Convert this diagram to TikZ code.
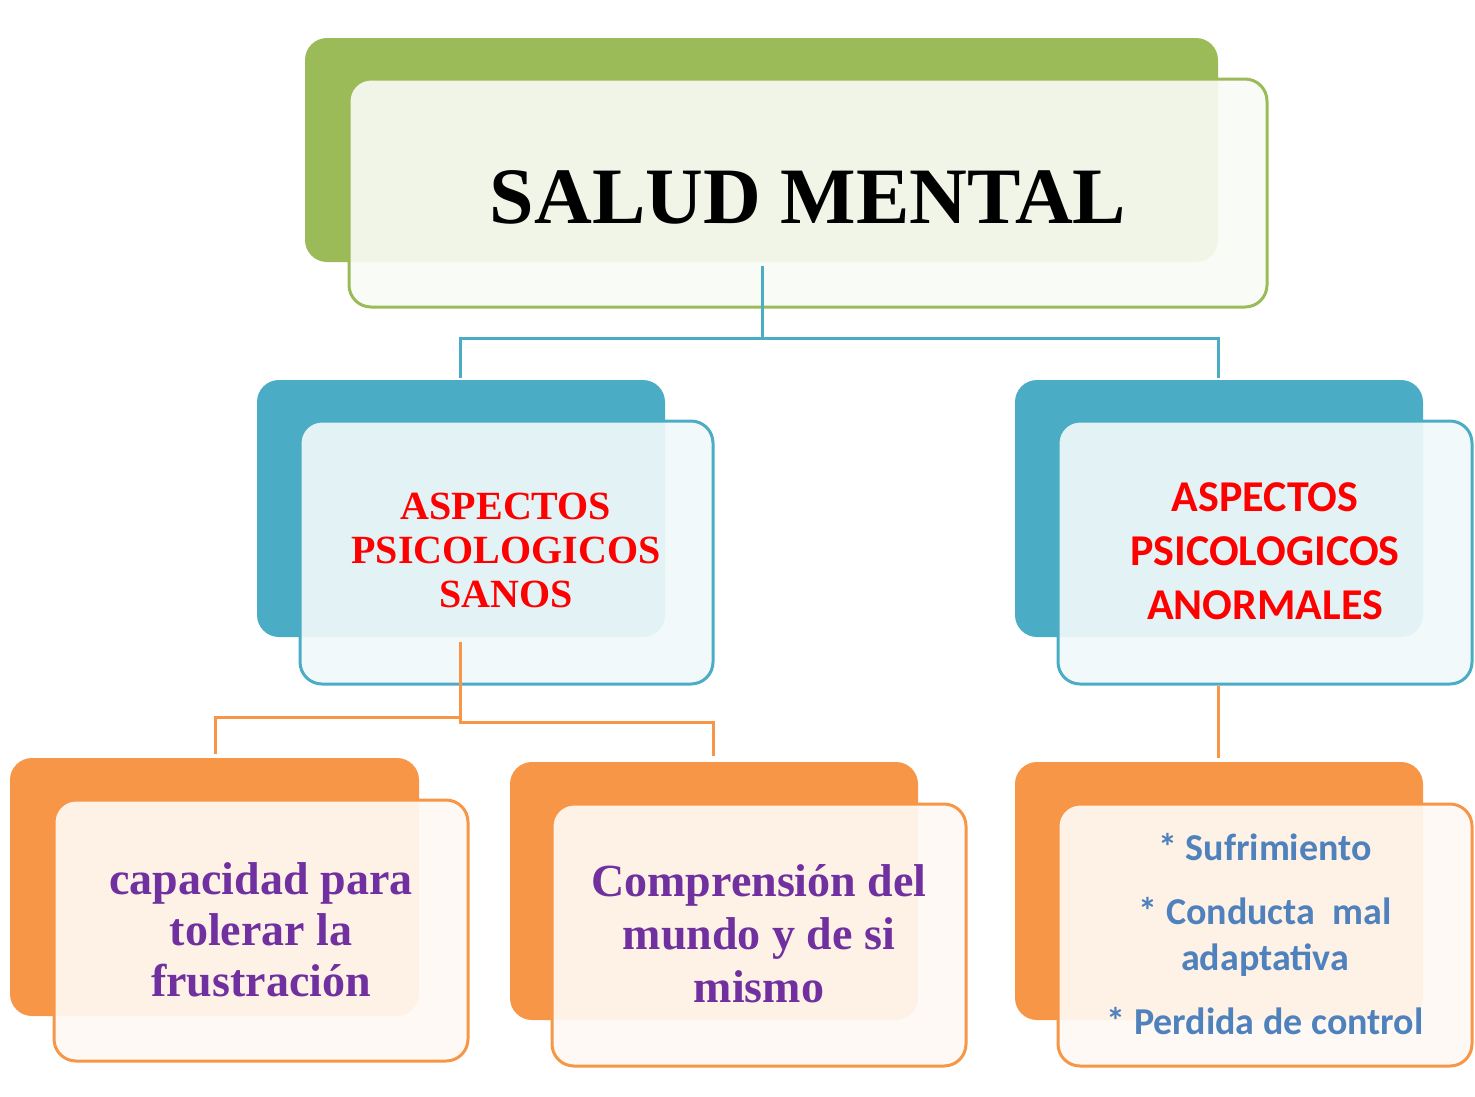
\documentclass[tikz,border=0pt]{standalone}
\usepackage{fontspec}
\setmainfont{Liberation Serif}
\newfontfamily\carl{Carlito}
\definecolor{gr}{HTML}{9BBB59}
\definecolor{tl}{HTML}{4BACC6}
\definecolor{org}{HTML}{F79646}
\definecolor{pur}{HTML}{7030A0}
\definecolor{blu}{HTML}{4F81BD}
\tikzset{
 back/.style={rounded corners=22pt},
 front/.style={rounded corners=22pt,line width=3pt,fill opacity=0.92,draw opacity=1,text opacity=1},
 conn/.style={line width=3pt}
}
\begin{document}
\begin{tikzpicture}[x=1pt,y=-1pt]
\useasboundingbox (0,0) rectangle (1475,1096);
% top
\fill[gr,back] (305,38) rectangle (1218,262);
\draw[front,draw=gr,fill=gr!6!white] (349,79) rectangle (1267,307);
\node[font=\fontsize{80}{80}\selectfont\bfseries] (top) at (808,197) {SALUD~MENTAL};
\coordinate (t1) at (762,266);
% mid
\fill[tl,back] (257,380) rectangle (665,637);
\draw[front,draw=tl,fill=tl!8!white] (300,421) rectangle (713,684);
\fill[tl,back] (1015,380) rectangle (1423,637);
\draw[front,draw=tl,fill=tl!8!white] (1058,421) rectangle (1472,684);
\node[red,align=center,font=\fontsize{40}{44}\selectfont\bfseries] (ml) at (506,550) {ASPECTOS\\PSICOLOGICOS\\SANOS};
\node[red,align=center,font=\carl\fontsize{44}{54}\selectfont\bfseries] (mr) at (1265,551) {ASPECTOS\\PSICOLOGICOS\\ANORMALES};
\draw[tl,conn] (t1) -- (762,338) -- (460,338) -- (460,378);
\draw[tl,conn] (762,338) -- (1218,338) -- (1218,378);
% bottom
\fill[org,back] (10,758) rectangle (419,1016);
\draw[front,draw=org,fill=org!6!white] (54,800) rectangle (468,1061);
\fill[org,back] (510,762) rectangle (918,1020);
\draw[front,draw=org,fill=org!6!white] (552,804) rectangle (966,1066);
\fill[org,back] (1015,762) rectangle (1423,1020);
\draw[front,draw=org,fill=org!6!white] (1058,804) rectangle (1472,1066);
\draw[org,conn] (460,642) -- (460,717) -- (215,717) -- (215,754);
\draw[org,conn] (460,717) -- (460,722) -- (713,722) -- (713,756);
\draw[org,conn] (1218,686) -- (1218,758);
\node[pur,align=center,font=\fontsize{46}{51}\selectfont\bfseries] (b1) at (261,930) {capacidad para\\tolerar la\\frustración};
\node[pur,align=center,font=\fontsize{46}{53}\selectfont\bfseries] (b2) at (759,934) {Comprensión del\\mundo y de si\\mismo};
\node[blu,align=center,font=\carl\fontsize{38}{46}\selectfont\bfseries] (b3) at (1265,934) {* Sufrimiento\\[18pt]* Conducta~ mal\\adaptativa\\[18pt]* Perdida de control};
\end{tikzpicture}
\end{document}
